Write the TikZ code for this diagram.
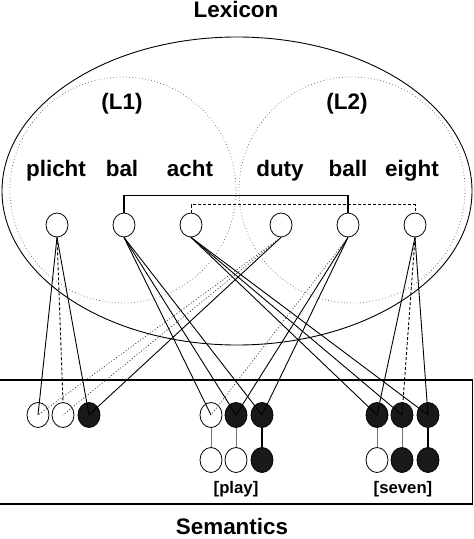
\documentclass[tikz,border=0pt]{standalone}
\usepackage{fontspec}
\setmainfont{Liberation Sans}
\usetikzlibrary{shapes.geometric}
\tikzstyle{ln}=[ellipse,draw=black,fill=white,line width=0.8pt,
  inner sep=0pt,minimum width=22bp,minimum height=24bp]
\tikzstyle{wn}=[ellipse,draw=black,fill=white,line width=0.8pt,
  inner sep=0pt,minimum width=22bp,minimum height=25bp]
\tikzstyle{bn}=[wn,fill=black!90]
\tikzstyle{word}=[font=\fontsize{22.5}{22.5}\selectfont\bfseries,anchor=base,inner sep=0pt]
\tikzstyle{tag}=[font=\fontsize{16.8}{16.8}\selectfont\bfseries,anchor=base,inner sep=0pt]
\tikzstyle{ring}=[black!70,line width=0.7pt,dash pattern=on 0.6pt off 2.6pt]
\tikzstyle{ww}=[line width=0.9pt]
\tikzstyle{wd}=[line width=0.9pt,dash pattern=on 3bp off 2bp]
\tikzstyle{wt}=[black!80,line width=0.7pt,dash pattern=on 1pt off 2pt]

\begin{document}
\begin{tikzpicture}[x=1bp,y=-1bp]
        \useasboundingbox (0,0) rectangle (474,539);
        % lexicon
        \node[word] (lex) at (236,18) {Lexicon};
        \draw[line width=0.9pt] (237,191) ellipse [x radius=235, y radius=154];
        \draw[ring] (123,190) circle [radius=113];
        \draw[ring] (352,190) circle [radius=113];
        \node[word] (l1) at (122,110) {(L1)};
        \node[word] (l2) at (347,110) {(L2)};
        \node[word] (w1) at (56,177) {plicht};
        \node[word] (w2) at (122,177) {bal};
        \node[word] (w3) at (190,177) {acht};
        \node[word] (w4) at (280,177) {duty};
        \node[word] (w5) at (348,177) {ball};
        \node[word] (w6) at (412,177) {eight};
        \node[style=ln] (plicht) at (57,225) {};
		\node[style=ln] (bal) at (124,225) {};
		\node[style=ln] (acht) at (191,225) {};
		\node[style=ln] (duty) at (281,225) {};
		\node[style=ln] (ball) at (348,225) {};
		\node[style=ln] (eight) at (415,225) {};
        \draw[line width=1.2pt] (bal.north) -- +(0,-17) -| (ball.north);
        \draw[wd] (acht.north) -- +(0,-8) -| (eight.north);
        % semantics
        \draw[line width=1.2pt] (-2,380) rectangle (472.5,504);
        \node[word] (sem) at (232,534) {Semantics};
        \node[style=wn] (s1) at (38,415) {};
		\node[style=wn] (s2) at (63,415) {};
		\node[style=bn] (s3) at (89,415) {};
		\node[style=wn] (s4) at (211,415) {};
		\node[style=bn] (s5) at (236,415) {};
		\node[style=bn] (s6) at (262,415) {};
		\node[style=bn] (s7) at (377,415) {};
		\node[style=bn] (s8) at (402,415) {};
		\node[style=bn] (s9) at (428,415) {};
		\node[style=wn] (t4) at (211,460) {};
		\node[style=wn] (t5) at (236,460) {};
		\node[style=bn] (t6) at (262,460) {};
		\node[style=wn] (t7) at (377,460) {};
		\node[style=bn] (t8) at (402,460) {};
		\node[style=bn] (t9) at (428,460) {};
        \node[tag] (play) at (236,493) {[play]};
        \node[tag] (seven) at (403,493) {[seven]};
        \draw[black!55,line width=0.7pt] (s4) to (t4);
		\draw[black!55,line width=0.7pt] (s5) to (t5);
		\draw[line width=1.3pt] (s6) to (t6);
		\draw[black!55,line width=0.7pt] (s7) to (t7);
		\draw[black!55,line width=0.7pt] (s8) to (t8);
		\draw[line width=1.3pt] (s9) to (t9);
        % links
        \draw[ww] (plicht.south) to (s1.center);
		\draw[wd] (plicht.south) to (s2.north);
		\draw[ww] (plicht.south) to (s3.center);
		\draw[ww] (bal.south) to (s4.center);
		\draw[ww] (bal.south) to (s5.center);
		\draw[ww] (bal.south) to (s6.center);
		\draw[ww] (acht.south) to (s7.center);
		\draw[ww] (acht.south) to (s8.center);
		\draw[ww] (acht.south) to (s9.center);
		\draw[wt] (duty.south) to (s1.center);
		\draw[wt] (duty.south) to (s2.center);
		\draw[ww] (duty.south) to (s3.center);
		\draw[wt] (ball.south) to (s4.center);
		\draw[ww] (ball.south) to (s5.center);
		\draw[ww] (ball.south) to (s6.center);
		\draw[ww] (eight.south) to (s7.center);
		\draw[wd] (eight.south) to (s8.center);
		\draw[ww] (eight.south) to (s9.center);
    \end{tikzpicture}
\end{document}
